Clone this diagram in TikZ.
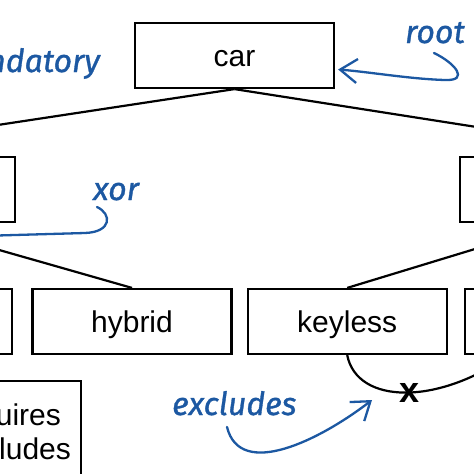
\documentclass[tikz,border=0pt]{standalone}
\usepackage{fontspec}
\setmainfont{Liberation Sans}
\newfontfamily\handfont{Fira Sans}[ItalicFeatures={FakeBold=1.0}]
\usetikzlibrary{positioning, arrows.meta}

\definecolor{pen}{RGB}{28,88,162}

\tikzset{
  feature/.style={draw, line width=2.2pt, minimum width=199pt, minimum height=65pt,
    inner sep=0pt, text height=26pt, text depth=4pt, font=\fontsize{30}{36}\selectfont},
  link/.style={line width=2.2pt},
  hand/.style={inner sep=0pt, text=pen, font=\handfont\itshape\fontsize{32}{38}\selectfont},
  note/.style={draw=pen, line width=2.3pt, line cap=round},
  barb/.style={-{Straight Barb[length=17pt, width=24pt]}},
  cross/.style={inner sep=0pt, font=\bfseries\fontsize{36}{40}\selectfont}
}

\begin{document}
\begin{tikzpicture}[x=1pt, y=-1pt]
\useasboundingbox (0,0) rectangle (474,474);
\clip (0,0) rectangle (474,474);
\fill[white] (0,0) rectangle (474,474);

% features
\node[feature] (car) at (234.5,55.5) {car};
\node[feature, minimum width=220pt] (engine) at (-95,189.5) {};
\node[feature, minimum width=200pt] (locks) at (560,189.5) {};
\node[feature] (hybrid) at (132,321.5) {hybrid};
\node[feature, left=18pt of hybrid] (electric) {};
\node[feature, right=14pt of hybrid] (keyless) {keyless};
\node[feature, right=16pt of keyless] (manual) {};

\draw[link] (car.south) -- (engine.north west);
\draw[link] (car.south) -- (locks.north east);
\draw[link] (engine.south) -- (hybrid.north);
\draw[link] (locks.south) -- (keyless.north);
\draw[link] (keyless.south) .. controls +(10,50) and +(-70,50) ..
    ([xshift=45pt]manual.south west) node[cross, pos=0.52] (exmark) {x};

% legend
\node[draw, line width=2.2pt, minimum width=300pt, minimum height=150pt,
    anchor=north east] (legend) at (82,380) {};
\node[anchor=base west, font=\fontsize{30}{36}\selectfont] (req) at (-51,425) {requires};
\node[anchor=base west, font=\fontsize{30}{36}\selectfont] (exc) at (-51,459) {excludes};

% notes
\node[hand, anchor=base east] (mandlbl) at (100,72) {mandatory};
\node[hand, anchor=base west] (rootlbl) at (405,43) {root};
\node[hand, anchor=base west] (xorlbl) at (93,200) {xor};
\node[hand, anchor=base west] (exlbl) at (172,415) {excludes};

\coordinate (roottail) at (434,53);
\coordinate (xortail) at (97,207);
\coordinate (xortip) at (-20,236);
\coordinate (extail) at (227,427);
\coordinate (exhead) at (372,400);

\draw[note, barb] (roottail) .. controls (455,63) and (470,81) .. (445,80)
    .. controls (410,79) and (370,72) .. ([shift={(3pt,-14pt)}]car.east);
\draw[note] (xortail) .. controls (112,214) and (112,232) .. (85,233) -- (xortip);
\draw[note, barb] (extail) .. controls (240,480) and (320,440) .. (exhead);
\end{tikzpicture}
\end{document}
